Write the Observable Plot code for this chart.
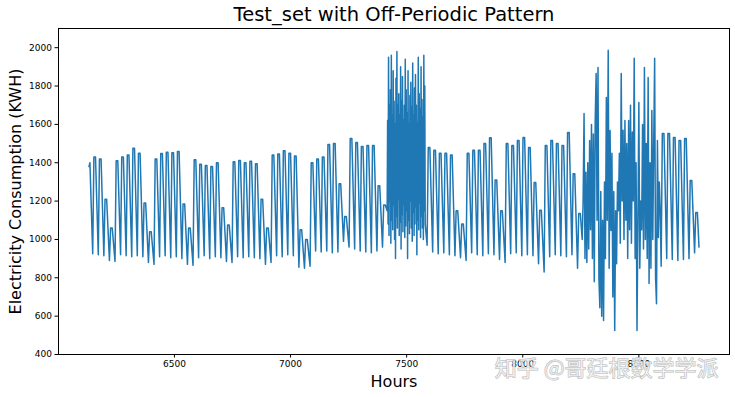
<!DOCTYPE html>
<html><head><meta charset="utf-8">
<script src="https://cdn.jsdelivr.net/npm/d3@7"></script>
<script src="https://cdn.jsdelivr.net/npm/@observablehq/plot@0.6"></script>
<style>body{margin:0;background:#fff;}</style>
</head><body><div id="chart"></div>
<script>
// ---- data ----
const titleText = "Test_set with Off-Periodic Pattern";
const xLabel = "Hours";
const yLabel = "Electricity Consumption (KWH)";
const watermark = "知乎 @哥廷根数学学派";
const xTicks = [6500, 7000, 7500, 8000, 8500];
const yTicks = [400, 600, 800, 1000, 1200, 1400, 1600, 1800, 2000];
const firstHour = 6132, lastHour = 8759;
const startValue = 1380, endValue = 960;
const firstMidnight = 6120;
// daily maximum (daytime plateau) for each day, null = irregular burst days
const dayPeak = [
  1400,1430,1420,1210,1060,
  1410,1430,1440,1475,1450,1190,1040,
  1420,1448,1455,1452,1458,1185,1060,
  1415,1392,1385,1380,1400,1165,1075,
  1405,1412,1400,1408,1395,1210,1060,
  1440,1445,1462,1450,1435,1050,1000,
  1400,1420,1430,1495,1500,1290,1120,
  1527,1506,1485,1490,1490,1280,1180,
  null,null,null,null,null,null,null,
  1480,1465,1450,1450,1440,1150,1080,
  1450,1465,1465,1500,1530,1310,1150,
  1500,1490,1516,1532,1480,1297,1152,
  1490,1516,1500,1490,1558,1343,1135,
  null,null,null,null,null,null,null,null,null,null,null,null,null,null,
  1553,1553,1532,1516,1527,1308,1141
];
// early-morning minimum for each day
const dayLow = [
  930,925,920,915,890,
  885,920,915,910,915,910,880,
  870,910,915,905,910,900,870,
  865,905,915,900,910,905,885,
  880,910,905,910,905,900,870,
  880,915,910,920,915,855,850,
  860,940,935,940,930,935,990,
  960,950,940,935,930,940,960,
  null,null,null,null,null,null,null,
  970,935,925,930,920,915,905,
  890,930,920,915,925,920,895,
  880,925,930,915,920,915,873,
  830,910,920,915,910,920,850,
  null,null,null,null,null,null,null,null,null,null,null,null,null,null,
  860,900,895,890,895,900,930
];
// first burst (every 2 hours)
const burst1Start = 7416, burst1Step = 2;
const burst1 = [1150,1620,1080,1950,1020,1700,1200,1780,980,1960,1100,1650,1050,1880,1180,1720,1000,1600,900,1840,
  1120,1980,1060,1700,1210,1760,1020,1650,1090,1900,950,1720,1130,1850,1040,1620,1180,1700,1010,1940,
  1070,1780,1150,1660,900,1880,1100,1600,1030,1750,1200,1820,1060,1690,990,1920,1140,1650,1020,1790,
  1080,1860,1170,1700,920,1610,1100,1950,1050,1760,1190,1680,1010,1900,1120,1730,1060,1640,1000,1960,
  1150,1800,1080];
// second burst (every 4 hours)
const burst2Start = 8256, burst2Step = 4;
const burst2 = [1000,1200,1657,900,1350,880,1400,950,1516,1050,1600,900,1550,780,1620,1865,1100,1897,800,644,
  1250,600,1100,577,1300,900,1740,1100,1986,850,1568,1047,1450,700,1250,525,1150,873,1300,1150,
  1450,980,1865,1200,1570,1000,1620,1100,1500,900,1620,1050,1700,980,1560,1200,1945,900,1400,525,
  1100,1714,850,1200,1050,1600,950,1897,1000,1500,900,1845,770,1400,850,1673,1000,1500,1945,800,
  665,1516,1010,1300,1150];

// ---- build the series ----
const series = [{hour: firstHour, kwh: startValue}];
dayPeak.forEach((p, j) => {
  if (p == null) return;
  const m = firstMidnight + 24 * j;
  [[m + 4, dayLow[j]], [m + 9, p], [m + 16, p]].forEach(([h, v]) => {
    if (h > firstHour && h < lastHour) series.push({hour: h, kwh: v});
  });
});
burst1.forEach((v, i) => series.push({hour: burst1Start + burst1Step * i, kwh: v}));
burst2.forEach((v, i) => series.push({hour: burst2Start + burst2Step * i, kwh: v}));
series.push({hour: lastHour, kwh: endValue});
series.sort((a, b) => a.hour - b.hour);

const pad = (lastHour - firstHour) * 0.05;

const chart = Plot.plot({
  width: 735, height: 397,
  marginLeft: 58, marginRight: 6, marginTop: 28, marginBottom: 43,
  style: {fontFamily: "DejaVu Sans", background: "#fff", overflow: "visible", color: "#000"},
  x: {domain: [firstHour - pad, lastHour + pad]},
  y: {domain: [400, 2100]},
  marks: [
    Plot.line(series, {x: "hour", y: "kwh", stroke: "#1f77b4", strokeWidth: 1.5}),
    Plot.frame({stroke: "#000", strokeWidth: 1}),
    Plot.axisX({ticks: xTicks, tickFormat: "d", tickSize: 3.5, tickPadding: 3, fontSize: 9, label: null}),
    Plot.axisY({ticks: yTicks, tickFormat: "d", tickSize: 3.5, tickPadding: 3, fontSize: 9, label: null}),
    Plot.text([titleText], {text: d => d, frameAnchor: "top", lineAnchor: "middle", dy: -13.5, fontSize: 19.5, fill: "#000"}),
    Plot.text([xLabel], {text: d => d, frameAnchor: "bottom", lineAnchor: "middle", dy: 27, fontSize: 16, fill: "#000"}),
    Plot.text([yLabel], {text: d => d, frameAnchor: "left", textAnchor: "middle", lineAnchor: "middle", dx: -43, rotate: -90, fontSize: 16, fill: "#000"}),
    Plot.text([watermark], {text: d => d, frameAnchor: "bottom-right", lineAnchor: "middle", dx: -11, dy: 14, textAnchor: "end",
      fontSize: 22, fontFamily: "Noto Sans CJK SC", fill: "#fff", stroke: "#b8b8b8", strokeWidth: 1, fillOpacity: 0.6})
  ]
});
document.getElementById("chart").append(chart);
</script>
</body></html>
